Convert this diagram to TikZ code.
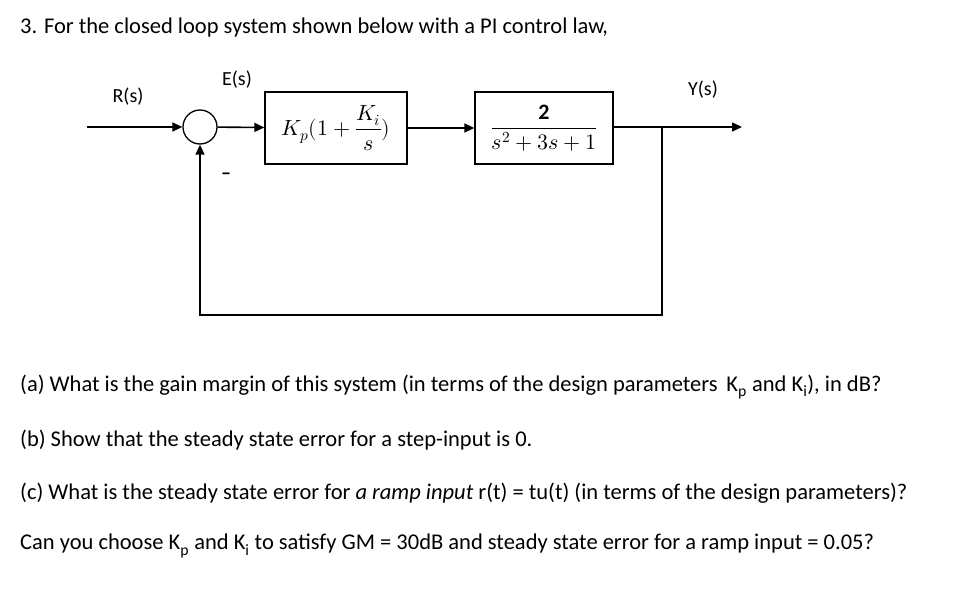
\documentclass[tikz,border=0pt]{standalone}
\usepackage{fontspec}
\setmainfont{Carlito}
\usepackage{unicode-math}
\setmathfont{Latin Modern Math}
\usetikzlibrary{arrows.meta}
\begin{document}
\begin{tikzpicture}[x=1pt,y=-1pt,
  blk/.style={draw,line width=1.3pt,minimum width=140pt,minimum height=72pt,inner sep=0pt},
  txt/.style={anchor=west,font=\fontsize{22.5}{26}\selectfont,inner sep=0pt},
  lab/.style={font=\fontsize{20}{24}\selectfont,inner sep=0pt},
  arr/.style={line width=1.6pt,-{Triangle[length=10pt,width=9pt]}}]
\useasboundingbox (0,0) rectangle (956,591);
\node[txt] (t) at (20,28) {3. For the closed loop system shown below with a PI control law,};
\coordinate (r) at (87,127);
\node[draw,line width=1.3pt,circle,minimum size=34pt,inner sep=0pt] (sum) at (200,127) {};
\node[blk,minimum width=142pt] (c) at (336,128) {\fontsize{22}{26}\selectfont$K_p(1+\dfrac{K_i}{s})$};
\node[blk,minimum width=138pt] (g) at (544,128) {\fontsize{22}{26}\selectfont$\dfrac{\mathbf{2}}{s^2+3s+1}$};
\coordinate (y) at (742,127);
\coordinate (br) at (662,127);
\coordinate (b1) at (662,315);
\coordinate (b2) at (200,315);
\draw[arr] (r) -- (sum);
\draw[arr] (sum) -- (c);
\draw[arr] (c) -- (g);
\draw[arr] (g.east |- y) -- (y);
\draw[arr] (br) -- (b1) -- (b2) -- (sum);
\node[lab] (rl) at (128,97) {R(s)};
\node[lab] (el) at (237,80) {E(s)};
\node[lab] (yl) at (703,90) {Y(s)};
\node[lab] (mi) at (226,176) {\textbf{--}};
\node[txt] (qa) at (20,387) {(a) What is the gain margin of this system (in terms of the design parameters\, K\textsubscript{p} and K\textsubscript{i}), in dB?};
\node[txt] (qb) at (20,440) {(b) Show that the steady state error for a step-input is 0.};
\node[txt] (qc) at (20,493) {(c) What is the steady state error for \textit{a ramp input} r(t) = tu(t) (in terms of the design parameters)?};
\node[txt] (qd) at (20,546) {Can you choose K\textsubscript{p} and K\textsubscript{i} to satisfy GM = 30dB and steady state error for a ramp input = 0.05?};
\end{tikzpicture}
\end{document}
